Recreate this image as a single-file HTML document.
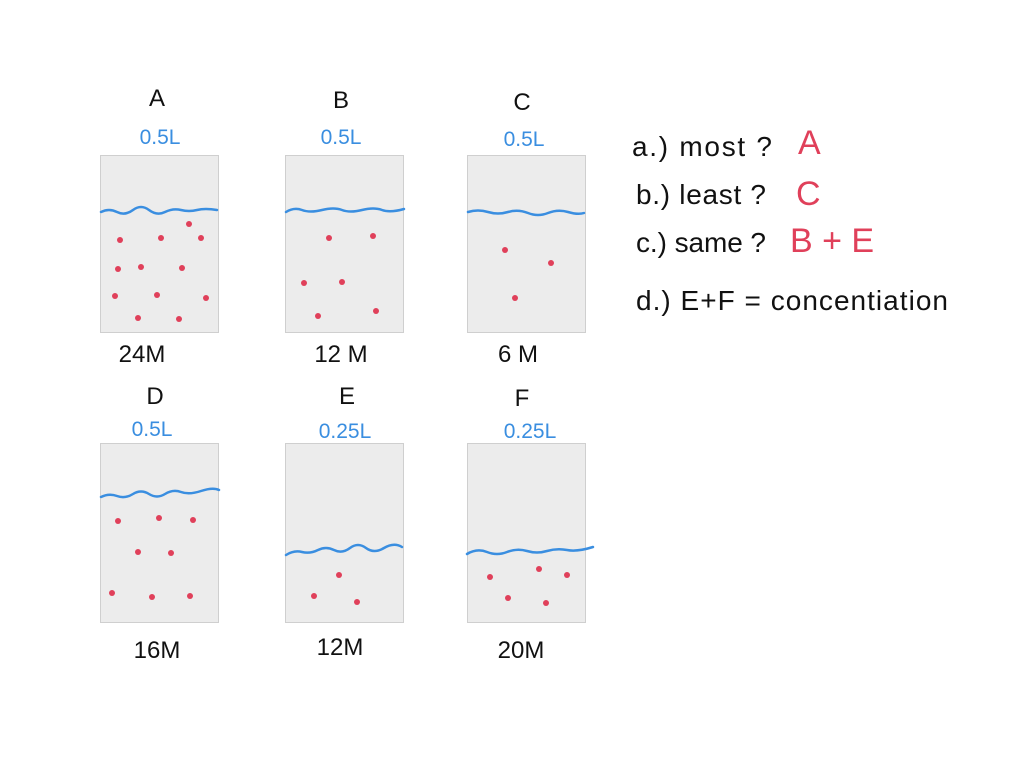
<!DOCTYPE html>
<html><head><style>
html,body{margin:0;padding:0;background:#fff;}
svg{display:block;}
text{font-family:"Liberation Sans",sans-serif;}
</style></head><body>
<svg width="1024" height="768" viewBox="0 0 1024 768">
<g fill="#ececec" stroke="#cfcfcf" stroke-width="1">
<rect x="100.5" y="155.5" width="118" height="177"/>
<rect x="285.5" y="155.5" width="118" height="177"/>
<rect x="467.5" y="155.5" width="118" height="177"/>
<rect x="100.5" y="443.5" width="118" height="179"/>
<rect x="285.5" y="443.5" width="118" height="179"/>
<rect x="467.5" y="443.5" width="118" height="179"/>
</g>
<g fill="none" stroke="#3a8ee0" stroke-width="2.5" stroke-linecap="round">
<path d="M101 212 q8 -4 16 0 t16 -2 t16 0 t16 2 t16 -2 t16 0 t20 0"/>
<path d="M286 212 q8 -5 16 -2 t20 0 t20 0 t20 0 t20 0 t22 -1"/>
<path d="M468 212 q10 -3 20 0 t20 0 t20 1 t20 0 t20 -1 t16 1"/>
<path d="M101 497 q8 -4 16 -1 t16 -2 t16 0 t16 0 t16 -2 t20 -1 t18 -1"/>
<path d="M286 555 q8 -5 16 -3 t16 -2 t16 0 t16 -2 t16 0 t18 0 t18 -1"/>
<path d="M467 554 q10 -6 20 -2 t20 0 t20 -1 t20 0 t20 -1 t26 -3"/>
</g>
<g fill="#e0405a">
<circle cx="120" cy="240" r="3"/><circle cx="161" cy="238" r="3"/><circle cx="189" cy="224" r="3"/><circle cx="201" cy="238" r="3"/>
<circle cx="118" cy="269" r="3"/><circle cx="141" cy="267" r="3"/><circle cx="182" cy="268" r="3"/>
<circle cx="115" cy="296" r="3"/><circle cx="157" cy="295" r="3"/><circle cx="206" cy="298" r="3"/>
<circle cx="138" cy="318" r="3"/><circle cx="179" cy="319" r="3"/>
<circle cx="329" cy="238" r="3"/><circle cx="373" cy="236" r="3"/><circle cx="304" cy="283" r="3"/><circle cx="342" cy="282" r="3"/><circle cx="318" cy="316" r="3"/><circle cx="376" cy="311" r="3"/>
<circle cx="505" cy="250" r="3"/><circle cx="551" cy="263" r="3"/><circle cx="515" cy="298" r="3"/>
<circle cx="118" cy="521" r="3"/><circle cx="159" cy="518" r="3"/><circle cx="193" cy="520" r="3"/><circle cx="138" cy="552" r="3"/><circle cx="171" cy="553" r="3"/><circle cx="112" cy="593" r="3"/><circle cx="152" cy="597" r="3"/><circle cx="190" cy="596" r="3"/>
<circle cx="339" cy="575" r="3"/><circle cx="314" cy="596" r="3"/><circle cx="357" cy="602" r="3"/>
<circle cx="490" cy="577" r="3"/><circle cx="539" cy="569" r="3"/><circle cx="567" cy="575" r="3"/><circle cx="508" cy="598" r="3"/><circle cx="546" cy="603" r="3"/>
</g>
<g fill="#111" font-size="24">
<text x="157" y="106" text-anchor="middle">A</text>
<text x="341" y="108" text-anchor="middle">B</text>
<text x="522" y="110" text-anchor="middle">C</text>
<text x="155" y="404" text-anchor="middle">D</text>
<text x="347" y="404" text-anchor="middle">E</text>
<text x="522" y="406" text-anchor="middle">F</text>
<text x="142" y="362" text-anchor="middle">24M</text>
<text x="341" y="362" text-anchor="middle">12 M</text>
<text x="518" y="362" text-anchor="middle">6 M</text>
<text x="157" y="658" text-anchor="middle">16M</text>
<text x="340" y="655" text-anchor="middle">12M</text>
<text x="521" y="658" text-anchor="middle">20M</text>
</g>
<g fill="#3a8ee0" font-size="21">
<text x="160" y="144" text-anchor="middle">0.5L</text>
<text x="341" y="144" text-anchor="middle">0.5L</text>
<text x="524" y="146" text-anchor="middle">0.5L</text>
<text x="152" y="436" text-anchor="middle">0.5L</text>
<text x="345" y="438" text-anchor="middle">0.25L</text>
<text x="530" y="438" text-anchor="middle">0.25L</text>
</g>
<g fill="#111" font-size="28">
<text x="632" y="156" textLength="140">a.) most ?</text>
<text x="636" y="204" textLength="130">b.) least ?</text>
<text x="636" y="252" textLength="130">c.) same ?</text>
<text x="636" y="310" textLength="312">d.)  E+F = concentiation</text>
</g>
<g fill="#e0405a" font-size="34">
<text x="798" y="154">A</text>
<text x="796" y="205">C</text>
<text x="790" y="252">B + E</text>
</g>
</svg>
</body></html>
